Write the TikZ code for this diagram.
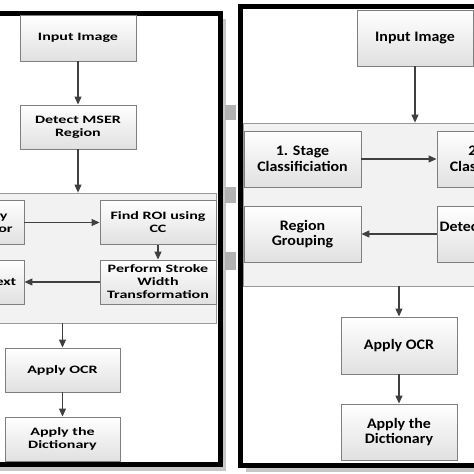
\documentclass[tikz,border=0pt]{standalone}
\usepackage{fontspec}
\setmainfont{Carlito}
\newfontfamily\flatfont{Carlito}[FakeStretch=1.42]
\newfontfamily\tallfont{Carlito}[FakeStretch=1.1]
\usetikzlibrary{arrows.meta}
\definecolor{boxline}{HTML}{7F7F7F}
\definecolor{arrowgray}{HTML}{404040}
\definecolor{groupfill}{HTML}{F2F2F2}
\tikzset{
    box/.style={draw=boxline,line width=0.9pt,top color=white,bottom color=black!12,
        align=center,inner sep=2pt,minimum width=116pt},
    flatbox/.style={box,minimum height=44pt,font=\flatfont\bfseries\fontsize{11.3}{13}\selectfont},
    tallbox/.style={box,minimum height=56pt,font=\tallfont\bfseries\fontsize{14.5}{15.5}\selectfont},
    group/.style={draw=black!40,line width=0.8pt,fill=groupfill},
    flow/.style={draw=arrowgray,line width=1.1pt,-{Triangle[length=8pt,width=7pt]}},
    panel/.style={draw=black,line width=5pt,fill=white}
}
\begin{document}
\begin{tikzpicture}[x=1pt,y=-1pt]
        \clip (0,0) rectangle (474,474);
        \fill[white] (0,0) rectangle (474,474);
        % shadows and frames
        \fill[black!22] (-6,19) rectangle (226,471);
        \fill[black!22] (246,12) rectangle (490,472);
        \draw[panel] (-10,13.5) rectangle (220.5,464);
        \draw[panel] (240.5,6.5) rectangle (490,465);
        \fill[black!30] (225,105) rectangle (236,120);
        \fill[black!30] (225,187) rectangle (236,203);
        \fill[black!30] (225,252) rectangle (236,270);
        % groups
        \node[group,minimum width=226pt,minimum height=130pt] (grp1) at (103,258) {};
        \node[group,minimum width=247pt,minimum height=163pt] (grp2) at (366.5,204.5) {};
        \begin{scope}[every node/.style={flatbox}]
            \node (in1) [minimum height=46pt] at (78,38) {Input Image};
            \node (mser) at (78,127) {Detect MSER\\Region};
            \node (canny) at (-34,222.5) {Apply Canny\\Edge Detector};
            \node (roi) at (158,222.5) {Find ROI using\\CC};
            \node (swt) at (158,282) {Perform Stroke\\Width\\Transformation};
            \node (text) at (-34,282) {Detect the Text};
            \node (ocr1) [minimum width=115pt] at (62.5,370) {Apply OCR};
            \node (dict1) [minimum width=115pt] at (62.5,439) {Apply the\\Dictionary};
        \end{scope}
        \begin{scope}[every node/.style={tallbox}]
            \node (in2) at (415,38) {Input Image};
            \node (st1) [minimum width=117pt] at (302.5,159) {1. Stage\\Classificiation};
            \node (st2) at (495,159) {2. Stage\\Classificiation};
            \node (reg) [minimum width=117pt] at (302.5,234) {Region\\Grouping};
            \node (det) at (495,234) {Detect Character\\Area};
            \node (ocr2) [minimum height=57pt] at (399,345.5) {Apply OCR};
            \node (dict2) at (399,432) {Apply the\\Dictionary};
        \end{scope}
        \begin{scope}[every edge/.style={flow}]
            \path
                (in1) edge (mser)
                (mser) edge (mser |- grp1.north)
                (canny) edge (roi)
                (roi) edge (swt)
                (swt) edge (text)
                (grp1.south -| ocr1) edge (ocr1)
                (ocr1) edge (dict1)
                (in2) edge (in2 |- grp2.north)
                (st1) edge (st2)
                (det) edge (reg)
                (grp2.south -| ocr2) edge (ocr2)
                (ocr2) edge (dict2);
        \end{scope}
    \end{tikzpicture}
\end{document}
